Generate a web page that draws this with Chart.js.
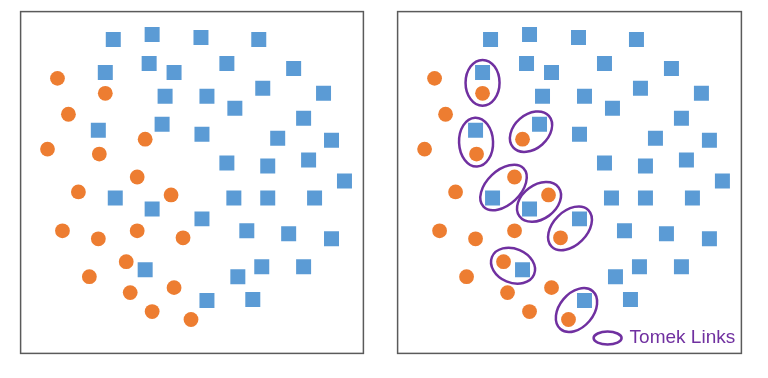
<!DOCTYPE html>
<html>
<head>
<meta charset="utf-8">
<script src="https://cdn.jsdelivr.net/npm/chart.js@4.4.0/dist/chart.umd.min.js"></script>
<style>
  html, body { margin: 0; padding: 0; background: #ffffff; }
  body { width: 768px; height: 378px; position: relative; overflow: hidden; }
  .panel { position: absolute; top: 1px; height: 363px; }
  #p1 { left: 10px; width: 364px; }
  #p2 { left: 387px; width: 365px; }
</style>
</head>
<body>
<div class="panel" id="p1"><canvas id="c1"></canvas></div>
<div class="panel" id="p2"><canvas id="c2"></canvas></div>
<script>
// Majority class (blue squares)
const blueX = [93,132,181,239,85,129,154,207,274,145,187,243,304,215,78,142,182,284,258,312,207,248,289,325,95,132,214,248,295,182,227,269,312,125,242,284,218,187,233];
const blueY = [315,320,317,315,282,291,282,291,286,258,258,266,261,246,224,230,220,236,216,214,191,188,194,173,156,145,156,156,156,135,123,120,115,84,87,87,77,53,54];
// Minority class (orange circles)
const orangeX = [37,85,48,27,79,125,117,58,151,42,78,117,163,106,69,110,154,132,171];
const orangeY = [276,261,240,205,200,215,177,162,159,123,115,123,116,92,77,61,66,42,34];
// Tomek links: [blue index, orange index]
const linkBlue = [4,14,15,24,25,29,33,37];
const linkOrange = [1,4,5,6,8,12,13,18];
const legendLabel = 'Tomek Links';

const BLUE = '#5B9BD5', ORANGE = '#ED7D31', PURPLE = '#7030A0';

function pts(xs, ys) { return xs.map((x, i) => ({ x: x, y: ys[i] })); }

const frame = {
  id: 'frame',
  afterDraw(chart) {
    const a = chart.chartArea, ctx = chart.ctx;
    ctx.save();
    ctx.strokeStyle = '#5a5a5a';
    ctx.lineWidth = 1.5;
    ctx.strokeRect(a.left, a.top, a.right - a.left, a.bottom - a.top);
    ctx.restore();
  }
};

const links = {
  id: 'links',
  afterDatasetsDraw(chart, args, opts) {
    if (!opts.show) return;
    const xs = chart.scales.x, ys = chart.scales.y, ctx = chart.ctx;
    ctx.save();
    ctx.strokeStyle = PURPLE;
    ctx.lineWidth = 2.5;
    for (let i = 0; i < linkBlue.length; i++) {
      const b = linkBlue[i], o = linkOrange[i];
      const x1 = xs.getPixelForValue(blueX[b]), y1 = ys.getPixelForValue(blueY[b]);
      const x2 = xs.getPixelForValue(orangeX[o]), y2 = ys.getPixelForValue(orangeY[o]);
      const cx = (x1 + x2) / 2, cy = (y1 + y2) / 2;
      const d = Math.hypot(x2 - x1, y2 - y1);
      const ang = Math.atan2(y2 - y1, x2 - x1);
      ctx.beginPath();
      ctx.ellipse(cx, cy, d / 2 + 12.5, 17, ang, 0, Math.PI * 2);
      ctx.stroke();
    }
    // legend
    const a = chart.chartArea;
    ctx.beginPath();
    ctx.ellipse(a.left + 210, a.top + 326.5, 14, 6.5, 0, 0, Math.PI * 2);
    ctx.stroke();
    ctx.fillStyle = PURPLE;
    ctx.font = '19px "Liberation Sans", Arial, sans-serif';
    ctx.textBaseline = 'alphabetic';
    ctx.textAlign = 'left';
    ctx.fillText(legendLabel, a.left + 232, a.top + 331);
    ctx.restore();
  }
};

function makeChart(id, showLinks) {
  return new Chart(document.getElementById(id), {
    type: 'scatter',
    data: {
      datasets: [
        { label: 'Majority', data: pts(blueX, blueY), pointStyle: 'rect', pointRadius: 10.6, pointHoverRadius: 10.6, backgroundColor: BLUE, borderWidth: 0 },
        { label: 'Minority', data: pts(orangeX, orangeY), pointStyle: 'circle', pointRadius: 7.4, pointHoverRadius: 7.4, backgroundColor: ORANGE, borderWidth: 0 }
      ]
    },
    options: {
      responsive: true,
      maintainAspectRatio: false,
      animation: false,
      events: [],
      layout: { padding: 10 },
      scales: {
        x: { type: 'linear', min: 0, max: 344, display: false },
        y: { type: 'linear', min: 0, max: 343, display: false }
      },
      plugins: {
        legend: { display: false },
        tooltip: { enabled: false },
        links: { show: showLinks }
      }
    },
    plugins: [frame, links]
  });
}

makeChart('c1', false);
makeChart('c2', true);
</script>
</body>
</html>
